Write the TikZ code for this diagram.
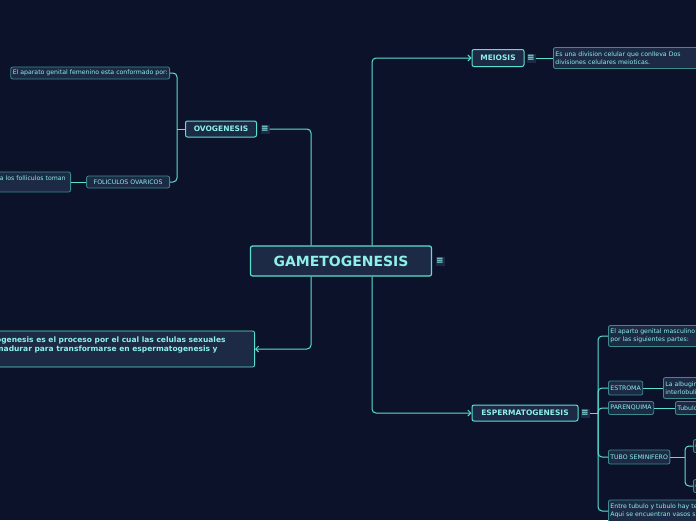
\documentclass[tikz,border=0pt]{standalone}
\usepackage{fontspec}
\setmainfont{DejaVu Sans}
\usetikzlibrary{arrows.meta}
\definecolor{bg}{HTML}{0B1229}
\definecolor{ln}{HTML}{5CE0D0}
\definecolor{bx}{HTML}{1C2A45}
\definecolor{bd}{HTML}{3C8C8C}
\definecolor{tx}{HTML}{8EF0E8}
\tikzset{
 main/.style={draw=ln,fill=bx,rounded corners=2pt,line width=1.2pt,text=tx,font=\bfseries\fontsize{14}{16}\selectfont,inner sep=3pt,minimum height=30pt},
 topic/.style={draw=ln,fill=bx,rounded corners=2pt,line width=1pt,text=tx,font=\bfseries\fontsize{7.5}{9}\selectfont,inner sep=2pt,minimum height=16pt},
 sub/.style={draw=bd,fill=bx,rounded corners=2pt,line width=0.8pt,text=tx,font=\fontsize{6.2}{7.6}\selectfont,inner sep=2pt,align=left},
 icon/.style={fill=bx,text=tx,font=\bfseries\fontsize{9}{9}\selectfont,inner sep=0.5pt,minimum width=9pt,minimum height=9pt},
 con/.style={draw=ln,line width=1pt,rounded corners=4pt},
 arr/.style={con,-{Straight Barb[length=3pt,width=6pt]}}
}
\begin{document}
\begin{tikzpicture}[x=1pt,y=-1pt]
\fill[bg] (0,0) rectangle (696,520);
\useasboundingbox (0,0) rectangle (696,520);
\clip (0,0) rectangle (696,520);
% main
\node[main,minimum width=181pt] (g) at (341,261) {GAMETOGENESIS};
\node[icon] (gi) at (440,261) {≡};
% meiosis
\node[topic,minimum width=52pt,minimum height=17pt] (m) at (498,58) {MEIOSIS};
\node[icon] (mi) at (531,58) {≡};
\node[sub,anchor=west,text width=150pt,minimum height=21pt] (md) at (553,58) {Es una division celular que conlleva Dos\\divisiones celulares meioticas.};
% ovogenesis
\node[topic,minimum width=71pt] (o) at (221,129) {OVOGENESIS};
\node[icon] (oi) at (265,129) {≡};
\node[sub,anchor=east,minimum height=12pt] (o1) at (170,73) {El aparato genital femenino esta conformado por:};
\node[sub,anchor=east,minimum height=12pt,minimum width=83pt] (o2) at (170,182) {FOLICULOS OVARICOS};
\node[sub,anchor=east,minimum height=20pt] (o3) at (71,182) {Durante el desarrollo a los folliculos toman\rule{3pt}{0pt}\\\phantom{x}};
% left big
\node[sub,anchor=east,draw=ln,align=right,minimum height=36pt,font=\bfseries\fontsize{7.5}{9.5}\selectfont,inner sep=4pt] (l) at (255,349) {La gametogenesis es el proceso por el cual las celulas sexuales\rule{25pt}{0pt}\\se desarrollan hasta madurar para transformarse en espermatogenesis y\rule{33pt}{0pt}\\\phantom{x}};
% espermatogenesis
\node[topic,minimum width=106pt] (e) at (525,413) {ESPERMATOGENESIS};
\node[icon] (ei) at (585,413) {≡};
\node[sub,anchor=west,minimum height=21pt] (e1) at (608,336) {El aparto genital masculino esta conformado\\por las siguientes partes:};
\node[sub,anchor=west,minimum height=14pt] (e2) at (608,388) {ESTROMA};
\node[sub,anchor=west,minimum height=21pt] (e2a) at (663,388) {La albuginea\\interlobulillar};
\node[sub,anchor=west,minimum height=13pt] (e3) at (608,408) {PARENQUIMA};
\node[sub,anchor=west,minimum height=13pt] (e3a) at (675,408) {Tubulos};
\node[sub,anchor=west,minimum height=14pt] (e4) at (608,457) {TUBO SEMINIFERO};
\node[sub,anchor=west,minimum height=13pt] (e4a) at (693,446) {Celulas};
\node[sub,anchor=west,minimum height=13pt] (e4b) at (693,486) {Celulas};
\node[sub,anchor=west,minimum height=22pt] (e5) at (608,511) {Entre tubulo y tubulo hay tejido\\Aqui se encuentran vasos sanguineos};
% connectors
\draw[arr] (g.north -| 372,0) |- (m.west);
\draw[arr] (g.south -| 372,0) |- (e.west);
\draw[con] (g.north -| 311,0) |- (oi.east);
\draw[arr] (g.south -| 311,0) |- (l.east);
\draw[con] (mi.east) -- (md.west);
\draw[con] (o.west) -- (177,129);
\draw[con] (177,129) |- (o1.east);
\draw[con] (177,129) |- (o2.east);
\draw[con] (o2.west) -- (o3.east);
\draw[con] (ei.east) -- (598,413);
\foreach \n in {e1,e2,e3,e4,e5} \draw[con] (598,413) |- (\n.west);
\draw[con] (e2.east) -- (e2a.west);
\draw[con] (e3.east) -- (e3a.west);
\draw[con] (e4.east) -- (685,457);
\draw[con] (685,457) |- (e4a.west);
\draw[con] (685,457) |- (e4b.west);
\end{tikzpicture}
\end{document}
